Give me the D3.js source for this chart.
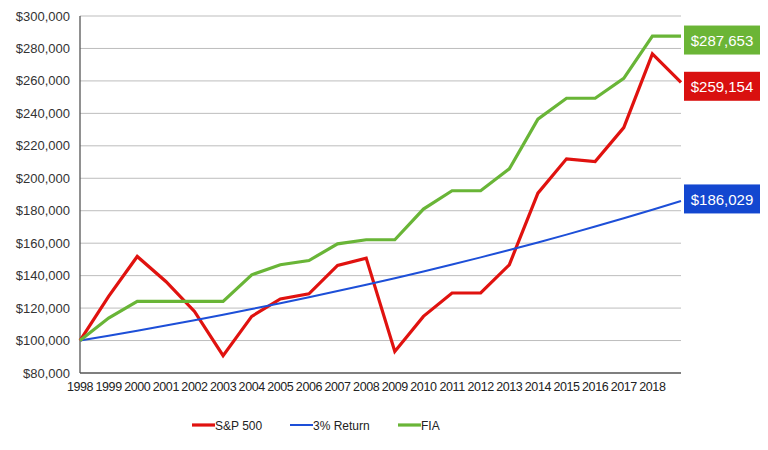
<!DOCTYPE html>
<html>
<head>
<meta charset="utf-8">
<script src="https://cdn.jsdelivr.net/npm/d3@7"></script>
<style>
  body { margin: 0; background: #fff; }
  text { font-family: "Liberation Sans", Arial, Helvetica, sans-serif; }
</style>
</head>
<body>
<div id="chart"></div>
<script>
// Years along the bottom (the last point, 2019, has no tick label)
const years = [1998, 1999, 2000, 2001, 2002, 2003, 2004, 2005, 2006, 2007, 2008,
               2009, 2010, 2011, 2012, 2013, 2014, 2015, 2016, 2017, 2018, 2019];
const tickYears = years.slice(0, 21);

// Series values
const sp500 = [100000, 127200, 151800, 136400, 117900, 90700, 114900, 125600, 128800, 146300, 150800,
               93300, 114900, 129300, 129300, 146700, 190800, 212000, 210300, 231200, 276600, 259154];
const threePct = [100000, 103000, 106090, 109273, 112551, 115927, 119405, 122987, 126677, 130477, 134392,
                  138423, 142576, 146853, 151259, 155797, 160471, 165285, 170243, 175351, 180611, 186029];
const fia = [100000, 113900, 124100, 124100, 124100, 124100, 140500, 146700, 149300, 159600, 162100,
             162100, 181000, 192300, 192300, 205800, 236400, 249300, 249300, 261600, 287653, 287653];

const yTicks = [80000, 100000, 120000, 140000, 160000, 180000, 200000, 220000, 240000, 260000, 280000, 300000];

const series = [
    { name: "S&P 500", values: sp500, color: "#e0120f", width: 3.2, labelColor: "#d9100f" },
    { name: "3% Return", values: threePct, color: "#1d4fd8", width: 2, labelColor: "#1347d0" },
    { name: "FIA", values: fia, color: "#69b537", width: 3.2, labelColor: "#6bb536" }
];

const width = 768, height = 450;
const plotLeft = 80, plotRight = 681, plotTop = 16, plotBottom = 373;

const svg = d3.select("#chart").append("svg")
    .attr("width", width)
    .attr("height", height);

const x = d3.scaleLinear().domain([1998, 2019]).range([plotLeft, plotRight]);
const y = d3.scaleLinear().domain([80000, 300000]).range([plotBottom, plotTop]);

// gridlines
svg.append("g")
    .selectAll("line")
    .data(yTicks.slice(1))
    .enter()
    .append("line")
    .attr("x1", plotLeft).attr("x2", plotRight)
    .attr("y1", d => y(d)).attr("y2", d => y(d))
    .attr("stroke", "#bdbdbd")
    .attr("stroke-width", 1);

// y axis labels
const fmt = d3.format("$,");
svg.append("g")
    .selectAll("text")
    .data(yTicks)
    .enter()
    .append("text")
    .attr("x", plotLeft - 10)
    .attr("y", d => y(d) + 4.5)
    .attr("text-anchor", "end")
    .attr("font-size", "13px")
    .attr("fill", "#333")
    .text(d => fmt(d));

// x axis labels
svg.append("g")
    .selectAll("text")
    .data(tickYears)
    .enter()
    .append("text")
    .attr("x", d => x(d))
    .attr("y", plotBottom + 18)
    .attr("text-anchor", "middle")
    .attr("font-size", "12.5px")
    .attr("letter-spacing", "-0.4px")
    .attr("fill", "#222")
    .text(d => d);

// axis lines
svg.append("line")
    .attr("x1", plotLeft).attr("x2", plotLeft)
    .attr("y1", plotTop).attr("y2", plotBottom)
    .attr("stroke", "#555").attr("stroke-width", 1.3);
svg.append("line")
    .attr("x1", plotLeft).attr("x2", plotRight)
    .attr("y1", plotBottom).attr("y2", plotBottom)
    .attr("stroke", "#555").attr("stroke-width", 1.5);

// the lines themselves
const line = d3.line()
    .x((d, i) => x(years[i]))
    .y(d => y(d));

svg.append("g")
    .selectAll("path")
    .data(series)
    .enter()
    .append("path")
    .attr("d", d => line(d.values))
    .attr("fill", "none")
    .attr("stroke", d => d.color)
    .attr("stroke-width", d => d.width)
    .attr("stroke-linejoin", "miter");

// end value labels in coloured boxes
const labelOffsets = { "S&P 500": 4, "3% Return": -2, "FIA": 4 };
const endLabels = svg.append("g")
    .selectAll("g")
    .data(series)
    .enter()
    .append("g")
    .attr("transform", d => `translate(${plotRight + 3},${y(d.values[d.values.length - 1]) + labelOffsets[d.name]})`);

endLabels.append("rect")
    .attr("x", 0)
    .attr("y", -14.5)
    .attr("width", 76)
    .attr("height", 29)
    .attr("fill", d => d.labelColor);

endLabels.append("text")
    .attr("x", 38)
    .attr("y", 6)
    .attr("text-anchor", "middle")
    .attr("font-size", "15px")
    .attr("fill", "#fff")
    .text(d => fmt(d.values[d.values.length - 1]));

// legend
const legendX = [192, 290, 398];
const legend = svg.append("g")
    .selectAll("g")
    .data(series)
    .enter()
    .append("g")
    .attr("transform", (d, i) => `translate(${legendX[i]},425)`);

legend.append("line")
    .attr("x1", 0).attr("x2", 23)
    .attr("y1", 0).attr("y2", 0)
    .attr("stroke", d => d.color)
    .attr("stroke-width", d => d.width);

legend.append("text")
    .attr("x", 23)
    .attr("y", 4.5)
    .attr("font-size", "12px")
    .attr("fill", "#222")
    .text(d => d.name);
</script>
</body>
</html>
